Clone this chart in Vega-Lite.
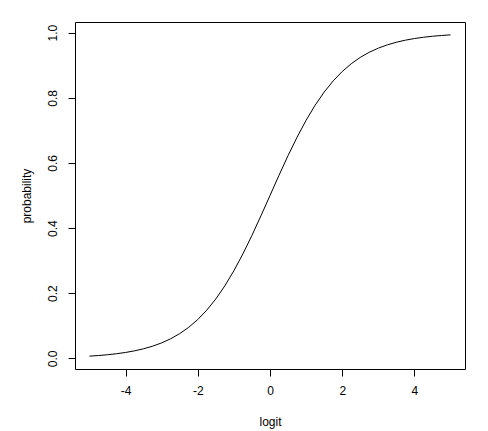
{
  "$schema": "https://vega.github.io/schema/vega-lite/v6.json",
  "width": 390,
  "height": 347,
  "autosize": {"type": "none"},
  "padding": {"left": 75, "top": 22, "right": 23, "bottom": 62},
  "background": "white",
  "config": {
    "view": {"stroke": "black", "strokeWidth": 1},
    "font": "Liberation Sans",
    "axis": {
      "grid": false,
      "domain": false,
      "tickColor": "black",
      "tickSize": 7,
      "labelColor": "black",
      "labelFont": "Liberation Sans",
      "labelFontSize": 12,
      "titleFont": "Liberation Sans",
      "titleFontSize": 12,
      "titleFontWeight": "normal",
      "titleColor": "black"
    }
  },
  "data": {"values": [
    {"logit": -5, "probability": 0.006693},
    {"logit": -4.75, "probability": 0.008577},
    {"logit": -4.5, "probability": 0.010987},
    {"logit": -4.25, "probability": 0.014064},
    {"logit": -4, "probability": 0.017986},
    {"logit": -3.75, "probability": 0.022977},
    {"logit": -3.5, "probability": 0.029312},
    {"logit": -3.25, "probability": 0.037327},
    {"logit": -3, "probability": 0.047426},
    {"logit": -2.75, "probability": 0.060087},
    {"logit": -2.5, "probability": 0.075858},
    {"logit": -2.25, "probability": 0.095349},
    {"logit": -2, "probability": 0.119203},
    {"logit": -1.75, "probability": 0.148047},
    {"logit": -1.5, "probability": 0.182426},
    {"logit": -1.25, "probability": 0.2227},
    {"logit": -1, "probability": 0.268941},
    {"logit": -0.75, "probability": 0.320821},
    {"logit": -0.5, "probability": 0.377541},
    {"logit": -0.25, "probability": 0.437823},
    {"logit": 0, "probability": 0.5},
    {"logit": 0.25, "probability": 0.562177},
    {"logit": 0.5, "probability": 0.622459},
    {"logit": 0.75, "probability": 0.679179},
    {"logit": 1, "probability": 0.731059},
    {"logit": 1.25, "probability": 0.7773},
    {"logit": 1.5, "probability": 0.817574},
    {"logit": 1.75, "probability": 0.851953},
    {"logit": 2, "probability": 0.880797},
    {"logit": 2.25, "probability": 0.904651},
    {"logit": 2.5, "probability": 0.924142},
    {"logit": 2.75, "probability": 0.939913},
    {"logit": 3, "probability": 0.952574},
    {"logit": 3.25, "probability": 0.962673},
    {"logit": 3.5, "probability": 0.970688},
    {"logit": 3.75, "probability": 0.977023},
    {"logit": 4, "probability": 0.982014},
    {"logit": 4.25, "probability": 0.985936},
    {"logit": 4.5, "probability": 0.989013},
    {"logit": 4.75, "probability": 0.991423},
    {"logit": 5, "probability": 0.993307}
  ]},
  "mark": {"type": "line", "color": "black", "strokeWidth": 1},
  "encoding": {
    "x": {
      "field": "logit", "type": "quantitative",
      "scale": {"domain": [-5.4, 5.4], "nice": false, "zero": false},
      "axis": {
        "values": [-4, -2, 0, 2, 4],
        "labelExpr": "datum.value < 0 ? '-' + abs(datum.value) : '' + datum.value",
        "title": "logit", "labelPadding": 9, "titlePadding": 20
      }
    },
    "y": {
      "field": "probability", "type": "quantitative",
      "scale": {"domain": [-0.0328, 1.0328], "nice": false, "zero": false},
      "axis": {
        "values": [0, 0.2, 0.4, 0.6, 0.8, 1.0],
        "format": ".1f",
        "title": "probability",
        "labelAngle": 270,
        "labelAlign": "center",
        "labelBaseline": "bottom",
        "labelPadding": 9,
        "titlePadding": 13
      }
    }
  }
}
